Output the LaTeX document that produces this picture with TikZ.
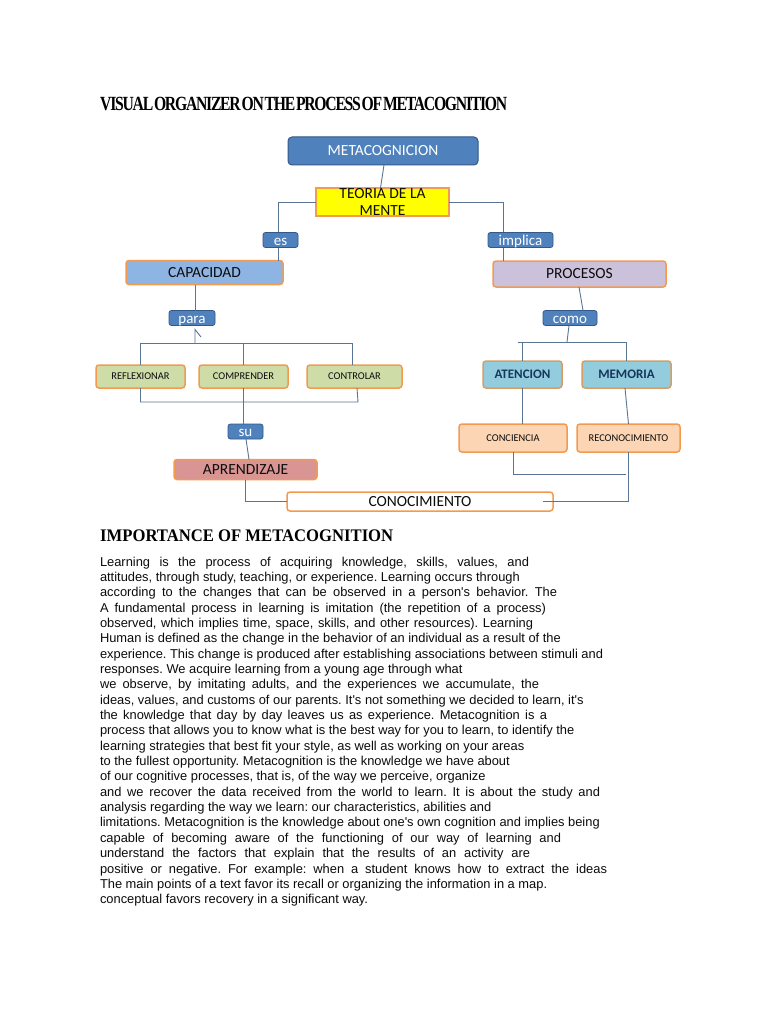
\documentclass[tikz,border=0pt]{standalone}
\usepackage{fontspec}
\setmainfont{Liberation Serif}
\newfontfamily\calfont{Carlito}
\newfontfamily\arialfont{Liberation Sans}
\newfontfamily\titlefont[LetterSpace=-8]{Liberation Serif Bold}
\usetikzlibrary{calc}
\definecolor{ln}{RGB}{88,118,148}
\definecolor{dblue}{RGB}{79,129,189}
\definecolor{dbluedraw}{RGB}{52,88,136}
\definecolor{orng}{RGB}{244,154,80}
\definecolor{yel}{RGB}{255,255,0}
\definecolor{capblue}{RGB}{142,180,227}
\definecolor{lav}{RGB}{204,193,218}
\definecolor{grn}{RGB}{206,220,168}
\definecolor{cyanb}{RGB}{147,205,221}
\definecolor{tanb}{RGB}{214,158,100}
\definecolor{peach}{RGB}{252,213,181}
\definecolor{rose}{RGB}{217,149,148}
\definecolor{navy}{RGB}{23,54,93}
\definecolor{txt}{RGB}{12,12,12}
\newcommand\myjust[2]{\makebox[#1pt][s]{#2}}
\newlength\refw
\frenchspacing
\begin{document}
\frenchspacing
\settowidth{\refw}{\arialfont\fontsize{10pt}{12pt}\selectfont experience. This change is produced after establishing associations between stimuli and}%
\pgfmathsetmacro\bodysize{10*503/\refw}%
\begin{tikzpicture}[x=1pt,y=-1pt,
  base/.style={inner sep=0pt, outer sep=0pt, align=center},
  link/.style={inner sep=0pt, outer sep=0pt, fill=dblue, draw=dbluedraw, line width=0.8pt, rounded corners=2.5pt, text=white, font=\calfont\fontsize{15}{16}\selectfont, minimum height=15pt, text height=10.8pt, text depth=0pt},
  concept/.style={base, draw=orng, line width=1.5pt, rounded corners=3pt, text=txt, font=\calfont\fontsize{15.5}{17}\selectfont},
  smallc/.style={concept, font=\calfont\fontsize{10.4}{12}\selectfont},
  conn/.style={draw=ln, line width=0.9pt},
  body/.style={anchor=base west, inner sep=0pt, outer sep=0pt, text=txt, font=\arialfont\fontsize{\bodysize pt}{15pt}\selectfont\frenchspacing}
]
\fill[white] (0,0) rectangle (768,1024);
\useasboundingbox (0,0) rectangle (768,1024);

% title
\node[anchor=base west, inner sep=0pt] (title) at (100,110.3)
  {\resizebox{407pt}{13.3pt}{\titlefont\spaceskip=0.5pt VISUAL ORGANIZER ON THE PROCESS OF METACOGNITION}};

% concept map nodes
\node[base, fill=dblue, draw=dbluedraw, line width=1pt, rounded corners=4pt, text=white,
      font=\calfont\fontsize{15.5}{17}\selectfont, minimum width=190pt, minimum height=28pt] (meta) at (383,151) {METACOGNICION};
\node[base, fill=yel, draw=orng, line width=1.3pt, text=txt, font=\calfont\fontsize{15.5}{17}\selectfont,
      minimum width=133pt, minimum height=28pt] (teoria) at (382.5,202) {TEORIA DE LA\\MENTE};
\node[link, minimum width=35pt] (es) at (280.5,240) {es};
\node[link, minimum width=65pt] (implica) at (520.5,240) {implica};
\node[concept, fill=capblue, minimum width=157pt, minimum height=24pt] (capacidad) at (204.5,272.5) {CAPACIDAD};
\node[concept, fill=lav, minimum width=173pt, minimum height=26pt] (procesos) at (579.5,274) {PROCESOS};
\node[link, minimum width=46pt] (para) at (192,318) {para};
\node[link, minimum width=54pt] (como) at (570,318) {como};
\node[smallc, fill=grn, minimum width=89pt, minimum height=23pt] (reflex) at (140.5,376.5) {REFLEXIONAR};
\node[smallc, fill=grn, minimum width=89pt, minimum height=23pt] (compr) at (243.5,376.5) {COMPRENDER};
\node[smallc, fill=grn, minimum width=95pt, minimum height=23pt] (control) at (354.5,376.5) {CONTROLAR};
\node[link, minimum width=35pt] (su) at (245.5,431.5) {su};
\node[concept, fill=rose, minimum width=143pt, minimum height=20pt] (aprend) at (245.5,469.5) {APRENDIZAJE};
\node[concept, fill=white, minimum width=266pt, minimum height=19pt] (conoc) at (420,501.5) {CONOCIMIENTO};
\node[base, fill=cyanb, draw=tanb, line width=1.5pt, rounded corners=3pt, text=navy,
      font=\calfont\bfseries\fontsize{13}{15}\selectfont, minimum width=79pt, minimum height=27pt] (atencion) at (522.5,374.5) {ATENCION};
\node[base, fill=cyanb, draw=tanb, line width=1.5pt, rounded corners=3pt, text=navy,
      font=\calfont\bfseries\fontsize{13}{15}\selectfont, minimum width=89pt, minimum height=27pt] (memoria) at (626.5,374.5) {MEMORIA};
\node[smallc, fill=peach, minimum width=108pt, minimum height=28pt] (concien) at (513,438) {CONCIENCIA};
\node[smallc, fill=peach, minimum width=103pt, minimum height=28pt] (recon) at (628.5,438) {RECONOCIMIENTO};

% connectors
\draw[conn] ([xshift=1pt]meta.south) -- ([xshift=-2pt]teoria.north);
\draw[conn] (teoria.west) -| ([xshift=-2.5pt]es.north);
\draw[conn] ([xshift=-2.5pt]es.south) -- ([xshift=-2.5pt]es.south |- capacidad.north);
\draw[conn] (teoria.east) -| ([xshift=-17.5pt]implica.north);
\draw[conn] ([xshift=-17.5pt]implica.south) -- ([xshift=-17.5pt]implica.south |- procesos.north);
\draw[conn] ([xshift=3pt]para.north) -- ([xshift=3pt]para.north |- capacidad.south);
\coordinate (lb) at (195,343);
\coordinate (pa) at (195,329.5);
\draw[conn] (lb) -- (pa) -- ++(6,7.5);
\draw[conn] (reflex.north) -- (reflex.north |- lb) -- ([xshift=-2pt]control.north |- lb) -- ([xshift=-2pt]control.north);
\draw[conn] (compr.north) -- (compr.north |- lb);
\coordinate (lb2) at (245,402);
\draw[conn] (reflex.south) -- (reflex.south |- lb2) -- ([xshift=3.5pt]control.south |- lb2) -- ([xshift=2.5pt]control.south);
\draw[conn] (compr.south) -- (compr.south |- su.north);
\draw[conn] ([xshift=0.5pt]su.south) -- ([xshift=3.5pt]aprend.north);
\draw[conn] (aprend.south) |- (conoc.west);
\draw[conn] ([xshift=-0.5pt]procesos.south) -- ([xshift=13pt]como.north);
\coordinate (rb) at (567,342);
\draw[conn] ([xshift=-1pt]como.south) -- (rb);
\draw[conn] ([xshift=-5pt]atencion.north |- rb) -- (memoria.north |- rb) -- (memoria.north);
\draw[conn] (atencion.north) -- (atencion.north |- rb);
\draw[conn] (atencion.south) -- (atencion.south |- concien.north);
\draw[conn] ([xshift=-1.5pt]memoria.south) -- (recon.north);
\coordinate (cb) at (626,474);
\draw[conn] (concien.south) |- (cb);
\draw[conn] (recon.south) |- ([xshift=-10pt]conoc.east);

% heading
\node[anchor=base west, inner sep=0pt] (heading) at (100,541.7)
  {\resizebox{293pt}{11.7pt}{\bfseries IMPORTANCE OF METACOGNITION}};

% body text
\node[body] (l1) at (100,566) {\myjust{429}{Learning is the process of acquiring knowledge, skills, values, and}};
\node[body] (l2) at (100,581.35) {attitudes, through study, teaching, or experience. Learning occurs through};
\node[body] (l3) at (100,596.7) {\myjust{457}{according to the changes that can be observed in a person's behavior. The}};
\node[body] (l4) at (100,612.05) {\myjust{446}{A fundamental process in learning is imitation (the repetition of a process)}};
\node[body] (l5) at (100,627.4) {\myjust{433}{observed, which implies time, space, skills, and other resources). Learning}};
\node[body] (l6) at (100,642.75) {Human is defined as the change in the behavior of an individual as a result of the};
\node[body] (l7) at (100,658.1) {experience. This change is produced after establishing associations between stimuli and};
\node[body] (l8) at (100,673.45) {responses. We acquire learning from a young age through what};
\node[body] (l9) at (100,688.8) {\myjust{439}{we observe, by imitating adults, and the experiences we accumulate, the}};
\node[body] (l10) at (100,704.15) {ideas, values, and customs of our parents. It's not something we decided to learn, it's};
\node[body] (l11) at (100,719.5) {\myjust{447}{the knowledge that day by day leaves us as experience. Metacognition is a}};
\node[body] (l12) at (100,734.85) {process that allows you to know what is the best way for you to learn, to identify the};
\node[body] (l13) at (100,750.2) {learning strategies that best fit your style, as well as working on your areas};
\node[body] (l14) at (100,765.55) {to the fullest opportunity. Metacognition is the knowledge we have about};
\node[body] (l15) at (100,780.9) {of our cognitive processes, that is, of the way we perceive, organize};
\node[body] (l16) at (100,796.25) {\myjust{500}{and we recover the data received from the world to learn. It is about the study and}};
\node[body] (l17) at (100,811.6) {analysis regarding the way we learn: our characteristics, abilities and};
\node[body] (l18) at (100,826.95) {limitations. Metacognition is the knowledge about one's own cognition and implies being};
\node[body] (l19) at (100,842.3) {\myjust{461}{capable of becoming aware of the functioning of our way of learning and}};
\node[body] (l20) at (100,857.65) {\myjust{430}{understand the factors that explain that the results of an activity are}};
\node[body] (l21) at (100,873) {\myjust{507}{positive or negative. For example: when a student knows how to extract the ideas}};
\node[body] (l22) at (100,888.35) {The main points of a text favor its recall or organizing the information in a map.};
\node[body] (l23) at (100,903.7) {conceptual favors recovery in a significant way.};
\end{tikzpicture}
\end{document}
